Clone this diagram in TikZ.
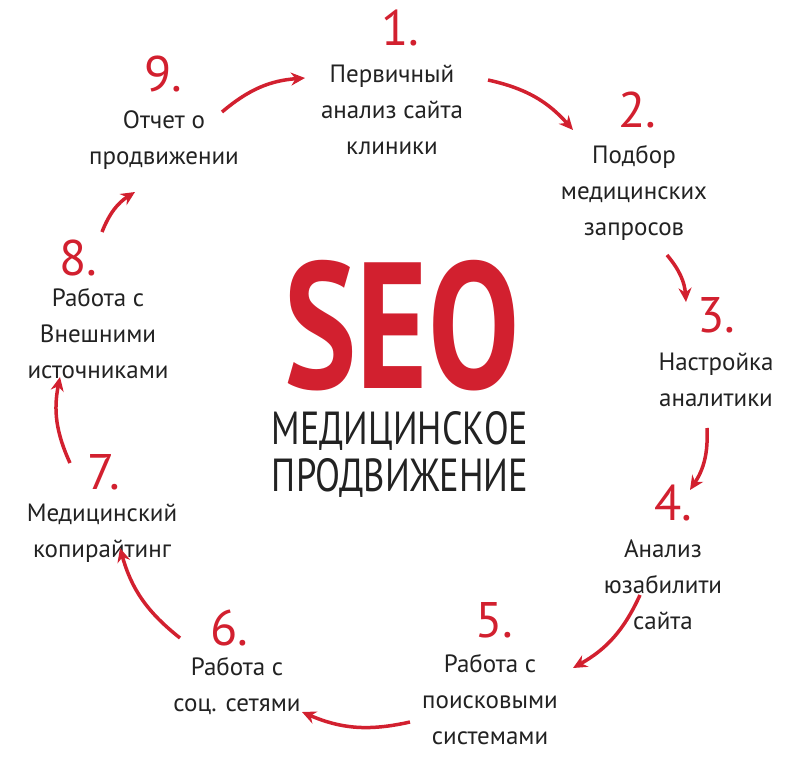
\documentclass[tikz,border=0pt]{standalone}
\usepackage{fontspec}
\setmainfont{PT Sans}
\usetikzlibrary{arrows.meta}
\definecolor{seored}{HTML}{D2202F}
\definecolor{ink}{HTML}{222222}
\begin{document}
\begin{tikzpicture}[x=1pt,y=-1pt,
 lbl/.style={align=center, text=ink, font=\fontsize{25}{36}\selectfont, inner sep=0pt},
 num/.style={text=seored, font=\fontsize{50}{50}\selectfont, inner sep=0pt},
 arr/.style={draw=seored, line width=3.5pt, -{Stealth[length=14pt,width=13pt]}}]
\useasboundingbox (0,0) rectangle (787,763);
% numbers
\node[num] (n1) at (400,28) {1.};
\node[num] (n2) at (637,110) {2.};
\node[num] (n3) at (716,315) {3.};
\node[num] (n4) at (673,503) {4.};
\node[num] (n5) at (494,620) {5.};
\node[num] (n6) at (229,628) {6.};
\node[num] (n7) at (104,472) {7.};
\node[num] (n8) at (78,258) {8.};
\node[num] (n9) at (163,74) {9.};
% labels
\node[lbl] (l1) at (392,110) {Первичный\\анализ сайта\\клиники};
\node[lbl] (l2) at (634,193) {Подбор\\медицинских\\запросов};
\node[lbl] (l3) at (716,380) {Настройка\\аналитики};
\node[lbl] (l4) at (663,585) {Анализ\\юзабилити\\сайта};
\node[lbl] (l5) at (490,700) {Работа с\\поисковыми\\системами};
\node[lbl] (l6) at (237,686) {Работа с\\соц. сетями};
\node[lbl] (l7) at (102,533) {Медицинский\\копирайтинг};
\node[lbl] (l8) at (98,334) {Работа с\\Внешними\\источниками};
\node[lbl] (l9) at (164,140) {Отчет о\\продвижении};
% center
\node[inner sep=0pt, text=seored] (seo) at (402,326) {\resizebox{235pt}{128pt}{\bfseries SEO}};
\node[inner sep=0pt, text=ink] (t1) at (400,431) {\resizebox{256pt}{33pt}{МЕДИЦИНСКОЕ}};
\node[inner sep=0pt, text=ink] (t2) at (400,478) {\resizebox{256pt}{33pt}{ПРОДВИЖЕНИЕ}};
% arrow ends
\coordinate (s1) at (222,112); \coordinate (e1) at (305,78);
\coordinate (s2) at (488,80);  \coordinate (e2) at (573,130);
\coordinate (s3) at (667,255); \coordinate (e3) at (686,302);
\coordinate (s4) at (707,428); \coordinate (e4) at (690,490);
\coordinate (s5) at (640,595); \coordinate (e5) at (573,668);
\coordinate (s6) at (410,722); \coordinate (e6) at (302,712);
\coordinate (s7) at (180,638); \coordinate (e7) at (120,548);
\coordinate (s8) at (70,463);  \coordinate (e8) at (60,377);
\coordinate (s9) at (102,232); \coordinate (e9) at (135,192);
\foreach \i in {1,...,9} {\draw[arr] (s\i) to[bend left=18] (e\i);}
\end{tikzpicture}
\end{document}
